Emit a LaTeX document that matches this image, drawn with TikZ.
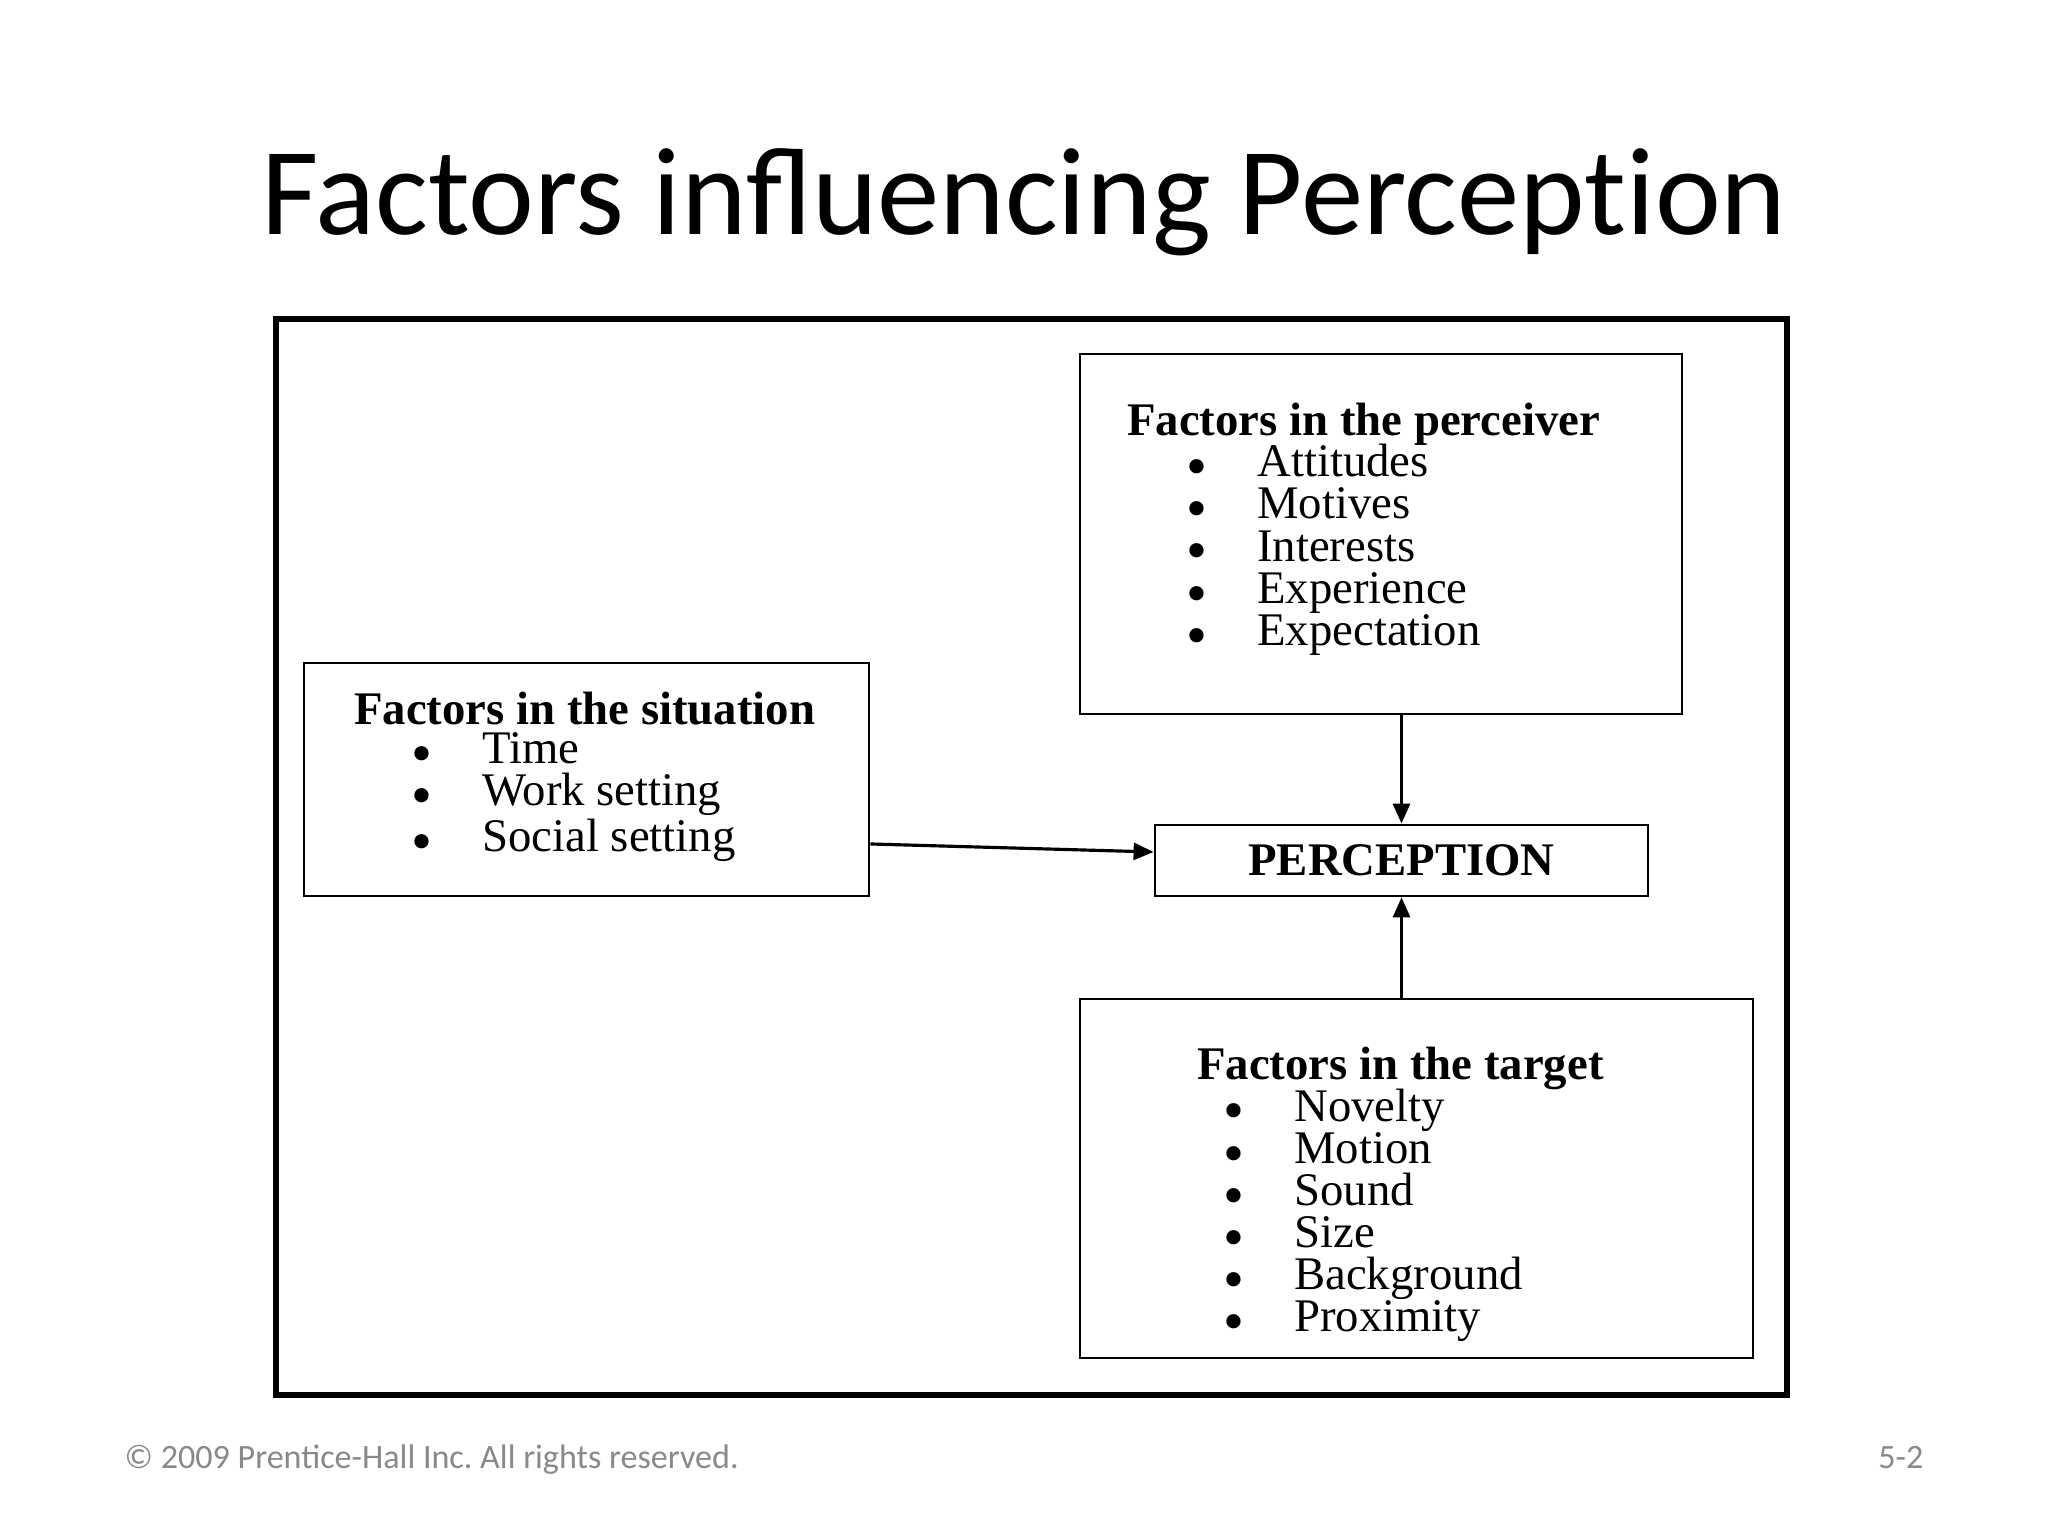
\documentclass[tikz,border=0pt]{standalone}
\usepackage{fontspec}
\setmainfont{Liberation Serif}
\newfontfamily\slidefont{Carlito}
\usetikzlibrary{positioning,arrows.meta}
\definecolor{footgray}{RGB}{137,137,137}
\newcommand\itm[2][1.3cm]{\makebox[#1][r]{\smash{\raisebox{-2.8pt}{\fontsize{17}{12}\selectfont\textbullet}}\hspace{0.5cm}}#2}
\tikzset{
  box/.style={draw, line width=0.8pt, inner sep=0pt},
  list/.style={anchor=north west, align=left, inner sep=0pt, font=\fontsize{13.3}{12}\selectfont},
  conn/.style={line width=0.9pt, -{Triangle[length=0.2cm,width=0.17cm]}},
  foot/.style={font=\slidefont\fontsize{9.7}{11}\selectfont, text=footgray, inner sep=0pt}
}
\begin{document}
\begin{tikzpicture}
\useasboundingbox (0,0) rectangle (20.48,15.36);
\draw (10.24,13.01) node[anchor=base, font=\slidefont\fontsize{35.5}{40}\selectfont] (title) {Factors influencing Percept\kern0pt ion};
\draw [line width=1.6pt] (2.76,1.41) rectangle (17.87,12.17);

\node [box, minimum width=6.02cm, minimum height=3.6cm] (perceiver) at (13.81,10.02) {};
\node [list, below right=0.5cm and 0.48cm of perceiver.north west] (perceivertext)
  {\textbf{Factors in the perceiver}\\[-1.4pt] \itm{Attitudes}\\ \itm{Motives}\\ \itm{Interests}\\ \itm{Experience}\\ \itm{Expectation}};

\node [box, minimum width=5.65cm, minimum height=2.33cm] (situation) at (5.865,7.565) {};
\node [list, below right=0.3cm and 0.51cm of situation.north west] (situationtext)
  {\textbf{Factors in the situation}\\[-1pt] \itm[1.28cm]{Time}\\ \itm[1.28cm]{Work setting}\\ \itm[1.28cm]{Social setting}};

\node [box, minimum width=4.93cm, minimum height=0.71cm, font=\fontsize{13.3}{12}\selectfont\bfseries] (perception) at (14.015,6.755) {PERCEPTION};

\node [box, minimum width=6.73cm, minimum height=3.59cm] (target) at (14.165,3.575) {};
\node [list, below right=0.49cm and 1.18cm of target.north west] (targettext)
  {\textbf{Factors in the target}\\[-1.4pt] \itm[0.97cm]{Novelty}\\ \itm[0.97cm]{Motion}\\ \itm[0.97cm]{Sound}\\ \itm[0.97cm]{Size}\\ \itm[0.97cm]{Background}\\ \itm[0.97cm]{Proximity}};

\draw [conn] (perception.north |- perceiver.south) -- (perception.north);
\draw [conn] (perception.south |- target.north) -- (perception.south);
\draw [conn] ([yshift=-0.645cm]situation.east) -- ([yshift=0.085cm]perception.west);

\node [foot, anchor=base west] (copyright) at (1.24,0.67) {© 2009 Prentice-Hall Inc.\ All rights reserved.};
\node [foot, anchor=base east] (slideno) at (19.24,0.67) {5-2};
\end{tikzpicture}
\end{document}
